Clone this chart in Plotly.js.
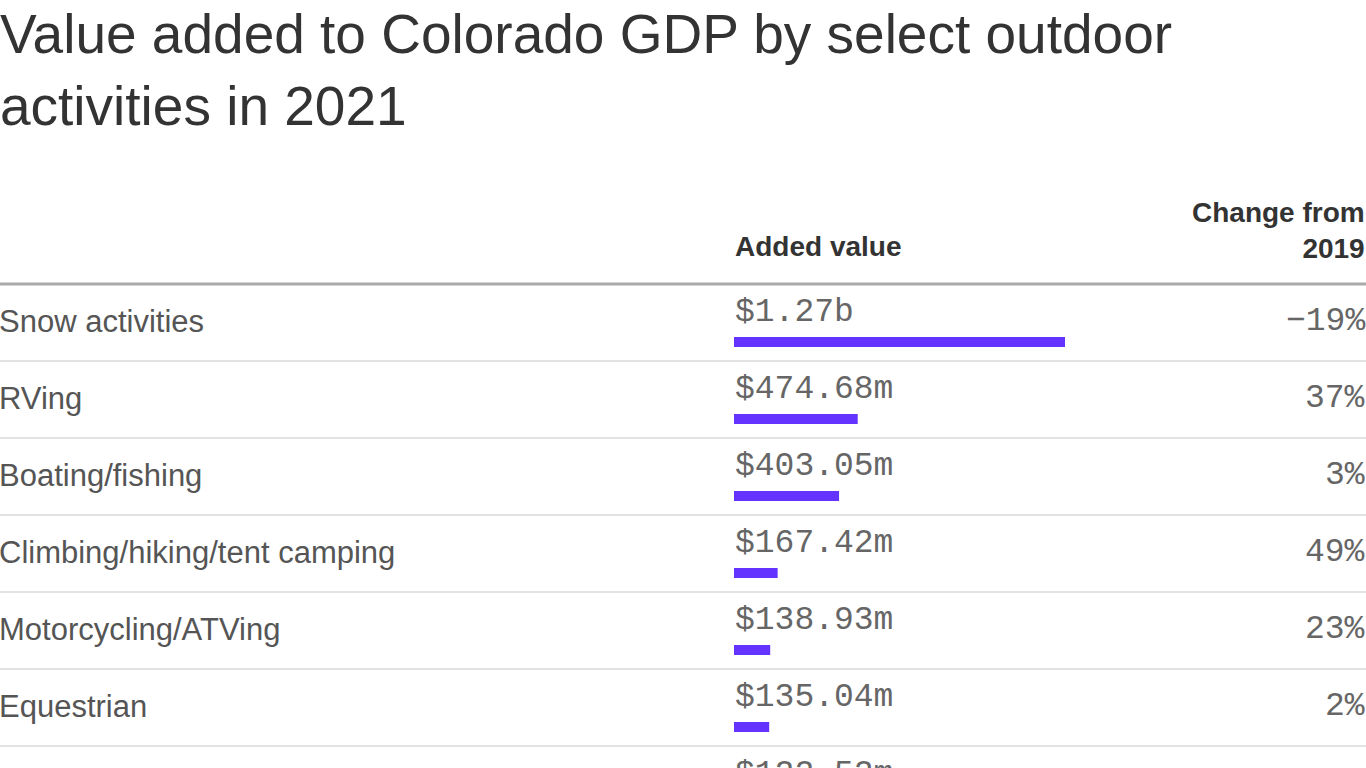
<!DOCTYPE html>
<html>
<head>
<meta charset="utf-8">
<script src="https://cdn.plot.ly/plotly-3.0.1.min.js"></script>
<style>
  html, body { margin: 0; padding: 0; background: #fff; }
  #chart { width: 1366px; height: 768px; }
</style>
</head>
<body>
<div id="chart"></div>
<script>
// ---- data ----
const categories = [
  "Snow activities",
  "RVing",
  "Boating/fishing",
  "Climbing/hiking/tent camping",
  "Motorcycling/ATVing",
  "Equestrian",
  "Hunting/shooting/trapping"
];
const addedValue = [1270, 474.68, 403.05, 167.42, 138.93, 135.04, 122.52]; // $ millions
const valueLabels = ["$1.27b", "$474.68m", "$403.05m", "$167.42m", "$138.93m", "$135.04m", "$122.52m"];
const changeLabels = ["\u221219%", "37%", "3%", "49%", "23%", "2%", ""];

const titleText = "Value added to Colorado GDP by select outdoor<br>activities in 2021";

// ---- styling ----
const W = 1366, H = 768;
const labelFont = "Liberation Sans, Arial, sans-serif";
const monoFont = "Liberation Mono, DejaVu Sans Mono, monospace";
const purple = "#6533ff";

const bars = {
  type: "bar",
  orientation: "h",
  x: addedValue,
  y: categories,
  width: 0.13,
  offset: 0.188,
  marker: { color: purple },
  hoverinfo: "skip"
};

// annotations anchored at each row's top edge (index - 0.5) and shifted down
const annotations = [];
categories.forEach((c, i) => {
  const rowTop = i - 0.5;
  annotations.push({
    xref: "paper", yref: "y", x: 0, y: rowTop, xanchor: "left", yanchor: "middle",
    yshift: -37, xshift: -2, text: c, showarrow: false, borderpad: 0,
    font: { family: labelFont, size: 31, color: "#555" }
  });
  annotations.push({
    xref: "x", yref: "y", x: 0, y: rowTop, xanchor: "left", yanchor: "middle",
    yshift: -28, text: valueLabels[i], showarrow: false, borderpad: 0,
    font: { family: monoFont, size: 33, color: "#666" }
  });
  if (changeLabels[i]) annotations.push({
    xref: "paper", yref: "y", x: 1, y: rowTop, xanchor: "right", yanchor: "middle",
    yshift: -37, text: changeLabels[i], showarrow: false, borderpad: 0,
    font: { family: monoFont, size: 33, color: "#666" }
  });
});
annotations.push({
  xref: "x", yref: "paper", x: 0, y: 1 - 246 / H, xanchor: "left", yanchor: "middle",
  text: "<b>Added value</b>", showarrow: false, borderpad: 0,
  font: { family: labelFont, size: 28, color: "#333" }
});
annotations.push({
  xref: "paper", yref: "paper", x: 1, y: 1 - 230 / H, xanchor: "right", yanchor: "middle",
  align: "right", text: "<b>Change from<br>2019</b>", showarrow: false, borderpad: 0,
  font: { family: labelFont, size: 28, color: "#333" }
});

const shapes = [{
  type: "line", xref: "paper", yref: "y", x0: 0, x1: 1, y0: -0.5, y1: -0.5,
  line: { color: "#aaaaaa", width: 3 }
}];
categories.forEach((c, i) => {
  shapes.push({
    type: "line", xref: "paper", yref: "y", x0: 0, x1: 1, y0: i + 0.5, y1: i + 0.5,
    line: { color: "#e2e2e2", width: 2 }
  });
});

const rowPx = 77, firstRowCenterPx = 322.5;
const layout = {
  width: W, height: H,
  margin: { l: 0, r: 0, t: 0, b: 0 },
  paper_bgcolor: "#fff", plot_bgcolor: "rgba(0,0,0,0)",
  showlegend: false,
  title: {
    text: titleText, x: 0, xref: "paper", xanchor: "left",
    y: 1 - 53 / H, yref: "paper", yanchor: "top", pad: { t: 0, l: 0 },
    font: { family: labelFont, size: 55, color: "#333" }
  },
  xaxis: { domain: [734 / W, 1], range: [0, 1270 * (W - 734) / 331], visible: false, fixedrange: true },
  yaxis: {
    type: "category", categoryarray: categories, categoryorder: "array",
    range: [(H - firstRowCenterPx) / rowPx, -firstRowCenterPx / rowPx],
    visible: false, fixedrange: true
  },
  shapes: shapes,
  annotations: annotations
};

Plotly.newPlot("chart", [bars], layout, { displayModeBar: false, staticPlot: true });
</script>
</body>
</html>
